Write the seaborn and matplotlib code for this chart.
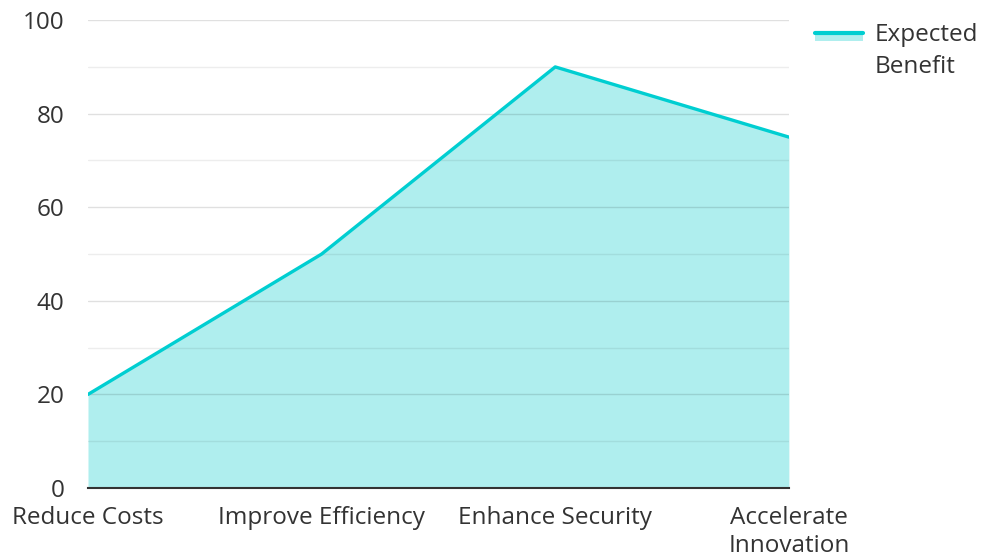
import matplotlib
matplotlib.use('Agg')
import matplotlib.pyplot as plt
import seaborn as sns
import pandas as pd
from matplotlib.lines import Line2D
from matplotlib.patches import Patch, Rectangle
from matplotlib.legend_handler import HandlerBase
from matplotlib.ticker import MultipleLocator

# ---------- data ----------
categories = ['Reduce Costs', 'Improve Efficiency', 'Enhance Security', 'Accelerate\nInnovation']
benefit = [20, 50, 90, 75]
series_name = 'Expected\nBenefit'

line_color = '#00CED1'
fill_color = '#AFEEEE'
text_color = '#333333'

sns.set_style('white')
plt.rcParams['font.family'] = ['Open Sans', 'DejaVu Sans']


class HandlerLineFill(HandlerBase):
    # line on top, filled swatch under it, lifted to sit beside first text line
    def create_artists(self, legend, orig_handle, xdescent, ydescent,
                       width, height, fontsize, trans):
        lift = fontsize * 1.12
        y0 = -ydescent + lift
        rect = Rectangle((-xdescent, y0 - height * 0.5), width, height * 0.5,
                         facecolor=fill_color, edgecolor='none', transform=trans)
        line = Line2D([-xdescent, -xdescent + width], [y0, y0],
                      color=line_color, linewidth=3, transform=trans)
        return [rect, line]


df = pd.DataFrame({'pos': range(len(categories)), 'benefit': benefit})

fig = plt.figure(figsize=(9.83, 5.59), dpi=100)
ax = fig.add_axes([0.0895, 0.127, 0.713, 0.837])

ax.fill_between(df['pos'], df['benefit'], 0, color=fill_color, linewidth=0, zorder=1)
sns.lineplot(data=df, x='pos', y='benefit', color=line_color, linewidth=2.4, ax=ax, zorder=3)

ax.set_xlim(0, len(categories) - 1)
ax.set_ylim(0, 100)
ax.set_xticks(range(len(categories)))
ax.set_xticklabels(categories, linespacing=1.2)
ax.yaxis.set_major_locator(MultipleLocator(20))
ax.yaxis.set_minor_locator(MultipleLocator(10))

ax.grid(axis='y', which='major', color='black', alpha=0.12, linewidth=1, zorder=2)
ax.grid(axis='y', which='minor', color='black', alpha=0.07, linewidth=1, zorder=2)
ax.set_axisbelow(False)

for s in ['top', 'right', 'left']:
    ax.spines[s].set_visible(False)
ax.spines['bottom'].set_color(text_color)
ax.spines['bottom'].set_linewidth(1.5)
ax.spines['bottom'].set_zorder(4)

ax.tick_params(axis='both', which='both', length=0, labelsize=17.5, colors=text_color)
ax.tick_params(axis='y', pad=17)
ax.tick_params(axis='x', pad=13)
ax.set_xlabel('')
ax.set_ylabel('')

leg = fig.legend([Patch()], [series_name], handler_map={Patch: HandlerLineFill()},
                 loc='upper left', bbox_to_anchor=(0.819, 0.976),
                 frameon=False, fontsize=17.5, handlelength=2.0, handletextpad=0.45,
                 labelcolor=text_color, borderaxespad=0)
for t in leg.get_texts():
    t.set_linespacing(1.42)

fig.savefig('out.png', dpi=100)
